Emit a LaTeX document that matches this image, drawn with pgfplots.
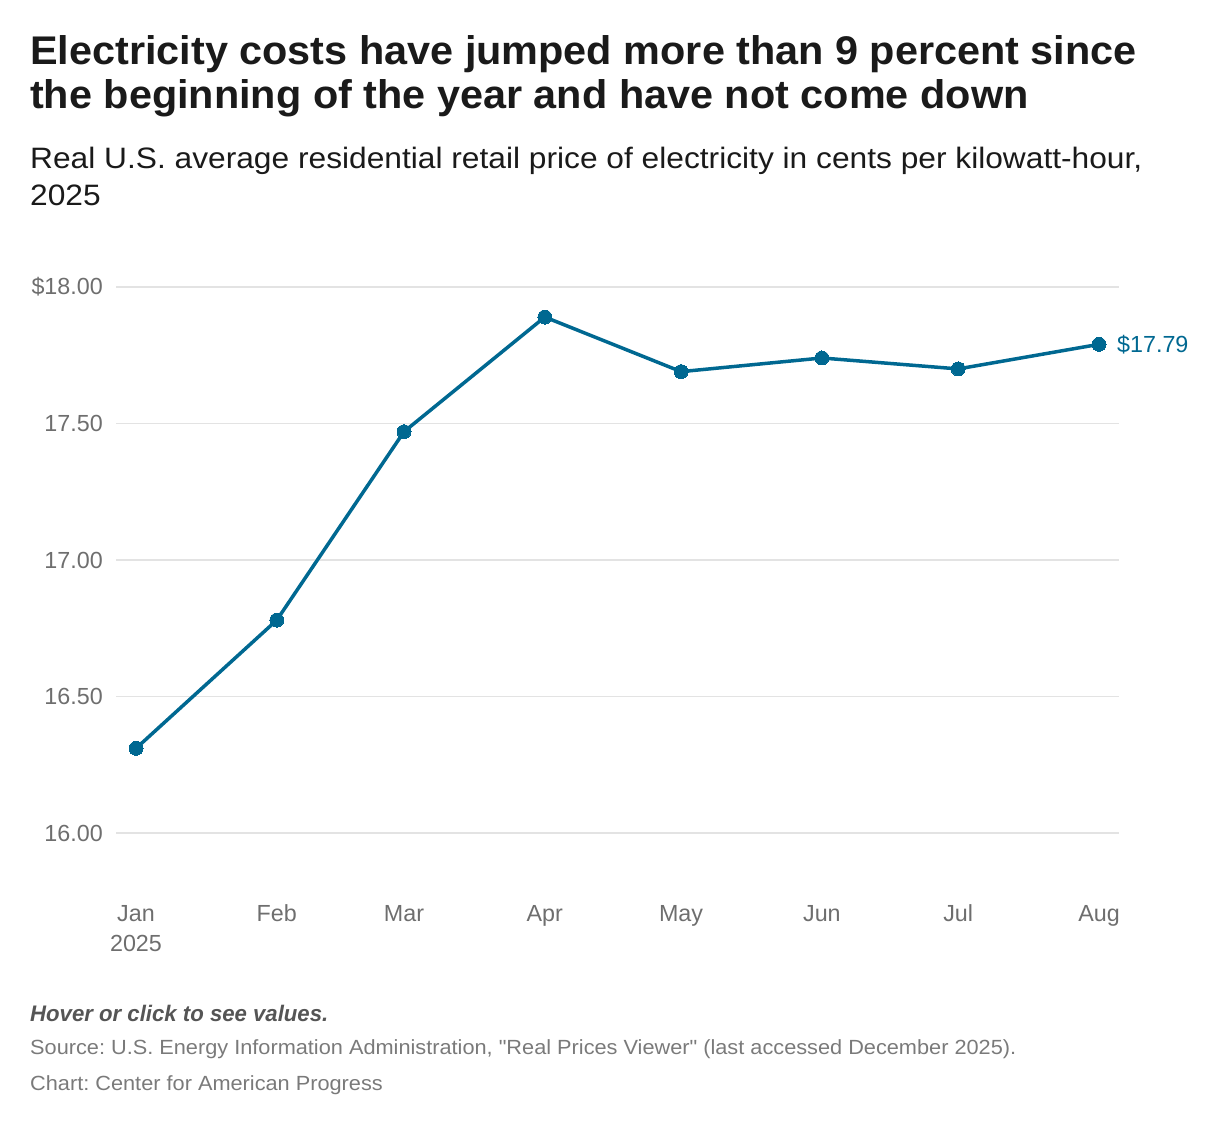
\documentclass[border=0pt]{standalone}
\usepackage{pgfplots}
\pgfplotsset{compat=1.18}
\usepackage{fontspec}
\setmainfont{Liberation Sans}
\newfontfamily\titlefont{Liberation Sans}[FakeStretch=1.035]
\newfontfamily\subfont{Liberation Sans}[FakeStretch=1.075]
\newfontfamily\notefont{Liberation Sans}[FakeStretch=0.985]
\newfontfamily\srcfont{Liberation Sans}[FakeStretch=1.06]
\newfontfamily\tickfont{Liberation Sans}[FakeStretch=1.0]
\frenchspacing

\definecolor{lineblue}{HTML}{006891}
\definecolor{titleink}{HTML}{1A1A1A}
\definecolor{tickgray}{HTML}{6E6E6E}
\definecolor{gridgray}{HTML}{E3E3E3}
\definecolor{notegray}{HTML}{555555}
\definecolor{sourcegray}{HTML}{7A7A7A}

% Monthly prices, x = days since 1 Jan 2025
\pgfplotstableread{
day price
0   16.31
31  16.78
59  17.47
90  17.89
120 17.69
151 17.74
181 17.70
212 17.79
}\pricetable

\begin{document}
\begin{tikzpicture}[x=1pt,y=1pt]
\path[use as bounding box] (0,0) rectangle (1220,-1128);

% Headline and subtitle
\node[anchor=base west,inner sep=0,text=titleink,font=\titlefont\fontsize{40}{44}\selectfont\bfseries] at (30,-64) {Electricity costs have jumped more than 9 percent since};
\node[anchor=base west,inner sep=0,text=titleink,font=\titlefont\fontsize{40}{44}\selectfont\bfseries] at (30,-108) {the beginning of the year and have not come down};
\node[anchor=base west,inner sep=0,text=titleink,font=\subfont\fontsize{29.5}{37}\selectfont] at (30,-168) {Real U.S. average residential retail price of electricity in cents per kilowatt-hour,};
\node[anchor=base west,inner sep=0,text=titleink,font=\subfont\fontsize{29.5}{37}\selectfont] at (30,-205) {2025};

\begin{axis}[
  at={(116pt,-860.3pt)}, anchor=south west,
  scale only axis, width=1003pt, height=586.95pt,
  xmin=-4.403, xmax=216.403,
  ymin=15.9, ymax=18.05,
  axis line style={draw=none},
  tick style={draw=none},
  ymajorgrids, grid style={gridgray,line width=1.5pt},
  ytick={16,16.5,17,17.5,18},
  yticklabels={16.00,16.50,17.00,17.50,\$18.00},
  xtick={0,31,59,90,120,151,181,212},
  xticklabels={{\strut Jan\\2025},\strut Feb,\strut Mar,\strut Apr,\strut May,\strut Jun,\strut Jul,\strut Aug},
  yticklabel style={font=\tickfont\fontsize{23.3}{26}\selectfont,text=tickgray,inner sep=0pt,anchor=east,xshift=-13pt},
  xticklabel style={font=\tickfont\fontsize{23.3}{30}\selectfont,text=tickgray,inner sep=0pt,anchor=north,align=center,yshift=-39.7pt},
  clip=false,
]
\addplot[lineblue,line width=3.5pt,mark=*,mark size=7pt,mark options={fill=lineblue,draw=lineblue,line width=0pt}]
  table[x=day,y=price]{\pricetable};
\node[anchor=west,inner sep=0,text=lineblue,font=\tickfont\fontsize{23.3}{26}\selectfont,xshift=18pt] at (axis cs:212,17.79) {\$17.79};
\end{axis}

% Footer notes
\node[anchor=base west,inner sep=0,text=notegray,font=\notefont\fontsize{22.5}{26}\selectfont\bfseries\itshape] at (30,-1021) {Hover or click to see values.};
\node[anchor=base west,inner sep=0,text=sourcegray,font=\srcfont\fontsize{20.5}{24}\selectfont] at (30,-1054) {Source: U.S. Energy Information Administration, {\char34}Real Prices Viewer{\char34} (last accessed December 2025).};
\node[anchor=base west,inner sep=0,text=sourcegray,font=\srcfont\fontsize{20.5}{24}\selectfont] at (30,-1090) {Chart: Center for American Progress};
\end{tikzpicture}
\end{document}
